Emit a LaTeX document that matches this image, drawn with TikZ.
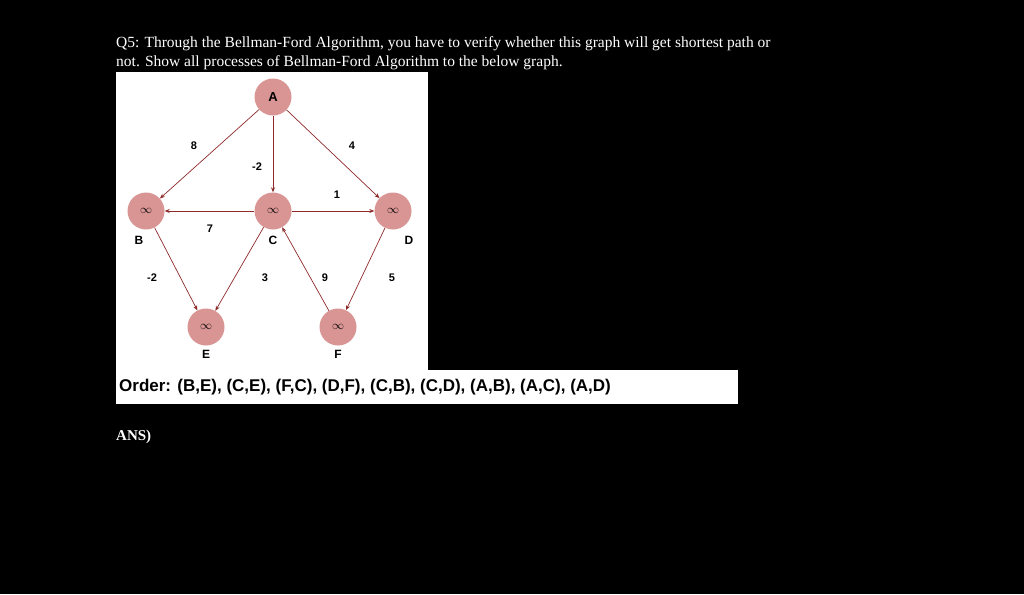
\documentclass[tikz,border=0pt]{standalone}
\usepackage{fontspec}
\setmainfont{Liberation Serif}
\newfontfamily\arialf{Liberation Sans}
\usetikzlibrary{arrows.meta}
\definecolor{nodefill}{HTML}{D99594}
\definecolor{edgecol}{HTML}{8E2A2A}
\tikzset{
 vert/.style={circle,fill=nodefill,minimum size=37pt,inner sep=0pt,font=\arialf\bfseries\fontsize{13}{13}\selectfont},
 edge/.style={draw=edgecol,line width=0.7pt,-{Stealth[length=5pt,width=4pt]}},
 wlab/.style={font=\arialf\bfseries\fontsize{11}{11}\selectfont},
 vlab/.style={font=\arialf\bfseries\fontsize{12}{12}\selectfont},
 qtext/.style={anchor=west,font=\fontsize{15.5}{16}\selectfont,text=white,inner sep=0pt}
}
\begin{document}
\begin{tikzpicture}[x=1pt,y=-1pt]
\fill[black] (0,0) rectangle (1024,594);
\fill[white] (116,72) rectangle (428,370);
\fill[white] (116,370) rectangle (738,404);
\node[qtext] (q1) at (116,44) {Q5: Through the Bellman-Ford Algorithm, you have to verify whether this graph will get shortest path or};
\node[qtext] (q2) at (116,63) {not. Show all processes of Bellman-Ford Algorithm to the below graph.};
\node[vert] (A) at (273,97) {A};
\node[vert] (B) at (146,211) {$\infty$};
\node[vert] (C) at (273,211) {$\infty$};
\node[vert] (D) at (393,211) {$\infty$};
\node[vert] (E) at (206,327) {$\infty$};
\node[vert] (F) at (338,327) {$\infty$};
\node[vlab] (lB) at (139,240) {B};
\node[vlab] (lC) at (273,240) {C};
\node[vlab] (lD) at (409,240) {D};
\node[vlab] (lE) at (206,354) {E};
\node[vlab] (lF) at (338,354) {F};
\draw[edge] (A) -- (B);
\draw[edge] (A) -- (C);
\draw[edge] (A) -- (D);
\draw[edge] (C) -- (B);
\draw[edge] (C) -- (D);
\draw[edge] (B) -- (E);
\draw[edge] (C) -- (E);
\draw[edge] (F) -- (C);
\draw[edge] (D) -- (F);
\node[wlab] (w1) at (194,146) {8};
\node[wlab] (w2) at (257,167) {-2};
\node[wlab] (w3) at (352,146) {4};
\node[wlab] (w4) at (337,195) {1};
\node[wlab] (w5) at (210,229) {7};
\node[wlab] (w6) at (152,278) {-2};
\node[wlab] (w7) at (265,278) {3};
\node[wlab] (w8) at (325,278) {9};
\node[wlab] (w9) at (392,278) {5};
\node[anchor=west,inner sep=0pt,font=\arialf\bfseries\fontsize{17}{17}\selectfont] (ord) at (119,387) {Order: (B,E), (C,E), (F,C), (D,F), (C,B), (C,D), (A,B), (A,C), (A,D)};
\node[qtext,font=\bfseries\fontsize{15}{16}\selectfont] (ans) at (116,437) {ANS)};
\end{tikzpicture}
\end{document}
